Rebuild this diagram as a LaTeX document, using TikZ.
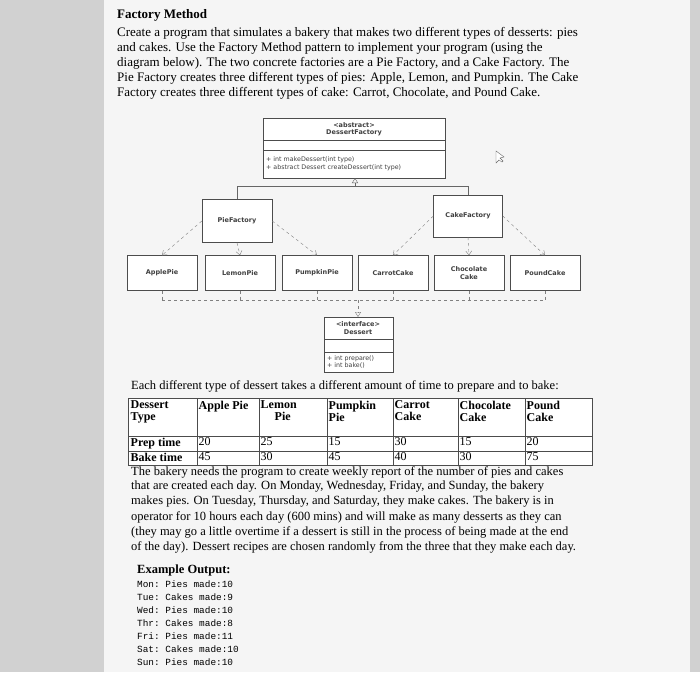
\documentclass[tikz,border=0pt]{standalone}
\usepackage{fontspec}
\setmainfont{Liberation Serif}
\setsansfont{DejaVu Sans}
\setmonofont{Liberation Mono}
\usetikzlibrary{arrows.meta}
\begin{document}
\begin{tikzpicture}[x=1pt,y=-1pt,
  txt/.style={anchor=west,inner sep=0pt,font=\rmfamily\fontsize{13}{12}\selectfont},
  txtb/.style={anchor=west,inner sep=0pt,font=\rmfamily\fontsize{12.5}{12}\selectfont},
  cls/.style={draw=black!70,fill=white,font=\sffamily\fontsize{6.5}{7.5}\selectfont\bfseries,text=black!75,align=center,inner sep=1pt},
  inh/.style={draw=black!60,-{Triangle[open,length=5pt,width=6pt]}},
  dep/.style={draw=black!50,dashed,-{Straight Barb[length=4pt,width=6pt]}},
  impl/.style={draw=black!50,dashed},
  mono/.style={anchor=west,inner sep=0pt,font=\ttfamily\fontsize{9.4}{9}\selectfont},
  cell/.style={anchor=north west,inner sep=1.5pt,align=left,font=\rmfamily\fontsize{12}{12}\selectfont},
  hcell/.style={cell,font=\rmfamily\bfseries\fontsize{12}{12}\selectfont}]
\useasboundingbox (0,0) rectangle (700,672);
\fill[black!18] (0,0) rectangle (700,672);
\fill[black!4] (104,0) rectangle (690,672);
% title and intro
\node[txt,font=\rmfamily\bfseries\fontsize{13}{12}\selectfont] (title) at (117,15) {Factory Method};
\node[txt] (l1) at (117,33) {Create a program that simulates a bakery that makes two different types of desserts: pies};
\node[txt] (l2) at (117,48) {and cakes. Use the Factory Method pattern to implement your program (using the};
\node[txt] (l3) at (117,63) {diagram below). The two concrete factories are a Pie Factory, and a Cake Factory. The};
\node[txt] (l4) at (117,78) {Pie Factory creates three different types of pies: Apple, Lemon, and Pumpkin. The Cake};
\node[txt] (l5) at (117,93) {Factory creates three different types of cake: Carrot, Chocolate, and Pound Cake.};
% DessertFactory
\draw[black!70,fill=white] (263,118) rectangle (445,178);
\draw[black!70] (263,140) -- (445,140) (263,150) -- (445,150);
\node[cls,draw=none,fill=none] (dfname) at (354,129) {<abstract>\\DessertFactory};
\node[cls,draw=none,fill=none,anchor=west,align=left,font=\sffamily\fontsize{6.3}{7.5}\selectfont] (dfm) at (265,164) {+ int makeDessert(int type)\\+ abstract Dessert createDessert(int type)};
\coordinate (df) at (355,178);
% cursor
\draw[black!60,fill=white] (496,151) -- (496,163) -- (499,160) -- (502,162) -- (503,161) -- (500,158) -- (504,157) -- cycle;
% factories
\node[cls,minimum width=70pt,minimum height=43pt] (pf) at (237,221) {PieFactory};
\node[cls,minimum width=69pt,minimum height=42pt] (cf) at (468,216) {CakeFactory};
\draw[inh] (pf.north) |- (355,186) -- (df);
\draw[draw=black!60] (cf.north) |- (355,186);
% products
\foreach \n/\x/\t in {ap/162/ApplePie,lp/240/LemonPie,pp/317/PumpkinPie,cc/393/CarrotCake,ch/469/Chocolate\\Cake,pc/545/PoundCake}
  \node[cls,minimum width=70pt,minimum height=35pt] (\n) at (\x,273) {\t};
\draw[dep] (pf.west) -- (ap.north);
\draw[dep] (pf.south) -- (lp.north);
\draw[dep] (pf.east) -- (pp.north);
\draw[dep] (cf.west) -- (cc.north);
\draw[dep] (cf.south) -- (ch.north);
\draw[dep] (cf.east) -- (pc.north);
% Dessert interface
\draw[black!70,fill=white] (324,317) rectangle (393,372);
\draw[black!70] (324,339) -- (393,339) (324,352) -- (393,352);
\node[cls,draw=none,fill=none] (dname) at (358,328) {<interface>\\Dessert};
\node[cls,draw=none,fill=none,anchor=west,align=left,font=\sffamily\fontsize{6.3}{7.5}\selectfont] (dm) at (326,362) {+ int prepare()\\+ int bake()};
\coordinate (dtop) at (358,317);
\foreach \n in {ap,lp,pp,cc,ch,pc} \draw[impl] (\n.south) -- ++(0,10);
\draw[impl] (ap.south |- 0,300) -- (pc.south |- 0,300);
\draw[impl,-{Triangle[open,length=5pt,width=6pt]}] (358,300) -- (dtop);
% table
\node[txtb] (t0) at (131,386) {Each different type of dessert takes a different amount of time to prepare and to bake:};
\draw[black!70,fill=white] (128,398) rectangle (592,465);
\foreach \x in {197,259,327,393,458,525} \draw[black!70] (\x,398) -- (\x,465);
\draw[black!70] (128,436) -- (592,436) (128,451) -- (592,451);
\node[hcell] (h0) at (129,399) {Dessert\\Type};
\foreach \x/\t [count=\i] in {197/Apple Pie,259/Lemon\\\hspace*{14pt}Pie,327/Pumpkin\\Pie,393/Carrot\\Cake,458/Chocolate\\Cake,525/Pound\\Cake}
  \node[hcell] (h\i) at (\x,399) {\t};
\node[hcell] (r1) at (129,436) {Prep time};
\node[hcell] (r2) at (129,451) {Bake time};
\foreach \x/\a/\b [count=\i] in {197/20/45,259/25/30,327/15/45,393/30/40,458/15/30,525/20/75}{
  \node[cell] (p\i) at (\x,436) {\a};
  \node[cell] (b\i) at (\x,451) {\b};}
% second paragraph
\node[txtb] (m1) at (131,472) {The bakery needs the program to create weekly report of the number of pies and cakes};
\node[txtb] (m2) at (131,487) {that are created each day. On Monday, Wednesday, Friday, and Sunday, the bakery};
\node[txtb] (m3) at (131,502) {makes pies. On Tuesday, Thursday, and Saturday, they make cakes. The bakery is in};
\node[txtb] (m4) at (131,517) {operator for 10 hours each day (600 mins) and will make as many desserts as they can};
\node[txtb] (m5) at (131,532) {(they may go a little overtime if a dessert is still in the process of being made at the end};
\node[txtb] (m6) at (131,547) {of the day). Dessert recipes are chosen randomly from the three that they make each day.};
\node[txtb,font=\rmfamily\bfseries\fontsize{12.5}{12}\selectfont] (eo) at (137,570) {Example Output:};
\foreach \t [count=\i] in {Mon: Pies made:10,Tue: Cakes made:9,Wed: Pies made:10,Thr: Cakes made:8,Fri: Pies made:11,Sat: Cakes made:10,Sun: Pies made:10}
  \node[mono] (o\i) at (137,571+\i*13) {\t};
\end{tikzpicture}
\end{document}
